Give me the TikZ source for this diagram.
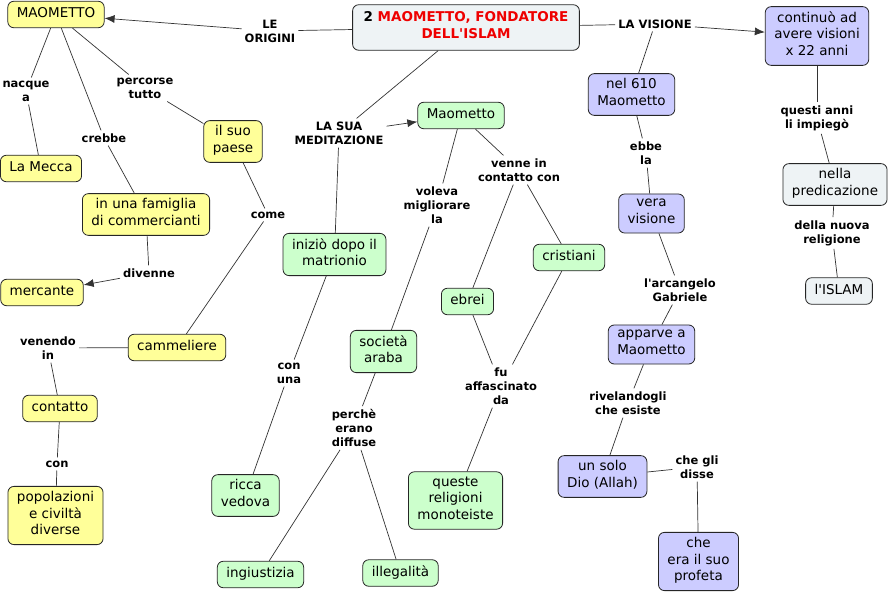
\documentclass[tikz,border=0pt]{standalone}
\usepackage{fontspec}
\setmainfont{DejaVu Sans}
\usepackage{tikz}
\usetikzlibrary{arrows.meta, positioning}

\definecolor{conYellow}{HTML}{FFFF99}
\definecolor{conGreen}{HTML}{CCFFCC}
\definecolor{conViolet}{HTML}{CCCCFF}
\definecolor{conGrey}{HTML}{EEF3F5}
\definecolor{titleRed}{HTML}{EE0000}
\newcommand{\nodefont}{\fontsize{13.5}{16.5}\selectfont}
\newcommand{\linkfont}{\fontsize{11.5}{14}\selectfont\bfseries}
\newcommand{\apo}{\textquotesingle}

\tikzset{
    concept/.style={draw=black!85, line width=0.8pt, rounded corners=6pt, align=center,
        inner xsep=9pt, inner ysep=5pt, font=\nodefont,
        execute at begin node=\strut, execute at end node=\strut},
    yel/.style={concept, fill=conYellow},
    grn/.style={concept, fill=conGreen},
    vio/.style={concept, fill=conViolet},
    gry/.style={concept, fill=conGrey},
    linkword/.style={align=center, font=\linkfont, inner sep=3pt},
    conn/.style={draw=black!80, line width=0.7pt},
    arr/.style={conn, -{Latex[length=10pt,width=8pt]}}
}

\begin{document}
\begin{tikzpicture}[x=1pt, y=-1pt]
    \fill[white] (0,0) rectangle (889,596);
    \useasboundingbox (0,0) rectangle (889,596);

    % concetti
    \node[gry, font=\nodefont\bfseries, inner xsep=11pt, inner ysep=7pt] (titolo) at (466,27.5) {2 \textcolor{titleRed}{MAOMETTO, FONDATORE}\\\textcolor{titleRed}{DELL\apo ISLAM}};
    \node[yel] (maometto) at (56,14.5) {MAOMETTO};
    \node[vio] (visioni) at (817,36) {continuò ad\\avere visioni\\x 22 anni};
    \node[yel] (mecca) at (41,168.5) {La Mecca};
    \node[yel] (paese) at (233,141.5) {il suo\\paese};
    \node[yel] (famiglia) at (146,214.5) {in una famiglia\\di commercianti};
    \node[yel] (mercante) at (42,292.5) {mercante};
    \node[yel] (cammeliere) at (177,347.5) {cammeliere};
    \node[yel] (contatto) at (60,408.5) {contatto};
    \node[yel] (popolazioni) at (55.5,515.5) {popolazioni\\e civiltà\\diverse};
    \node[grn] (maoverde) at (461,115.5) {Maometto};
    \node[grn] (inizio) at (334.5,254.5) {iniziò dopo il\\matrionio};
    \node[grn] (societa) at (383.5,351.5) {società\\araba};
    \node[grn] (ebrei) at (467.5,301.5) {ebrei};
    \node[grn] (cristiani) at (569,257.5) {cristiani};
    \node[grn] (vedova) at (245.5,495.5) {ricca\\vedova};
    \node[grn] (ingiustizia) at (260.5,574.5) {ingiustizia};
    \node[grn] (illegalita) at (400.5,573) {illegalità};
    \node[grn] (religioni) at (455.5,500.5) {queste\\religioni\\monoteiste};
    \node[vio] (nel610) at (631.5,94.5) {nel 610\\Maometto};
    \node[vio] (vera) at (651.5,213.5) {vera\\visione};
    \node[vio] (apparve) at (651.5,344.5) {apparve a\\Maometto};
    \node[vio] (dio) at (602.5,476.5) {un solo\\Dio (Allah)};
    \node[vio] (profeta) at (698.5,561.5) {che\\era il suo\\profeta};
    \node[gry] (predica) at (835,184.5) {nella\\predicazione};
    \node[gry] (islam) at (839,291) {l\apo ISLAM};

    % parole di collegamento
    \node[linkword] (lOrigini) at (270,31) {LE\\ORIGINI};
    \node[linkword] (lVisione) at (655,24) {LA VISIONE};
    \node[linkword] (lMeditazione) at (339,133) {LA SUA\\MEDITAZIONE};
    \node[linkword] (lNacque) at (26,91) {nacque\\a};
    \node[linkword] (lCrebbe) at (104,138) {crebbe};
    \node[linkword] (lPercorse) at (145,88) {percorse\\tutto};
    \node[linkword] (lCome) at (268,215) {come};
    \node[linkword] (lDivenne) at (149,273) {divenne};
    \node[linkword] (lVenendo) at (48,348) {venendo\\in};
    \node[linkword] (lCon) at (57,464) {con};
    \node[linkword] (lConUna) at (289,373) {con\\una};
    \node[linkword] (lVoleva) at (437,205) {voleva\\migliorare\\la};
    \node[linkword] (lVenne) at (519,170) {venne in\\contatto con};
    \node[linkword] (lPerche) at (354,428) {perchè\\erano\\diffuse};
    \node[linkword] (lFu) at (501,386) {fu\\affascinato\\da};
    \node[linkword] (lEbbe) at (646,153) {ebbe\\la};
    \node[linkword] (lArcangelo) at (680,290) {l\apo arcangelo\\Gabriele};
    \node[linkword] (lRivelando) at (628,403) {rivelandogli\\che esiste};
    \node[linkword] (lChe) at (697,467) {che gli\\disse};
    \node[linkword] (lQuesti) at (817,118) {questi anni\\li impiegò};
    \node[linkword] (lDella) at (832,233) {della nuova\\religione};

    % collegamenti
    \draw[conn] (titolo) -- (lOrigini);
    \draw[arr] (lOrigini) -- (maometto);
    \draw[conn] (titolo) -- (lVisione);
    \draw[arr] (lVisione) -- (visioni);
    \draw[conn] (lVisione) -- (nel610);
    \draw[conn] (titolo) -- (lMeditazione);
    \draw[arr] (lMeditazione) -- (maoverde);
    \draw[conn] (lMeditazione) -- (inizio);

    \draw[conn] (maometto) -- (lNacque);
    \draw[conn] (lNacque) -- (mecca);
    \draw[conn] (maometto) -- (lCrebbe);
    \draw[conn] (lCrebbe) -- (famiglia);
    \draw[conn] (maometto) -- (lPercorse);
    \draw[conn] (lPercorse) -- (paese);
    \draw[conn] (paese) -- (lCome);
    \draw[conn] (lCome) -- (cammeliere);
    \draw[conn] (famiglia) -- (lDivenne);
    \draw[arr] (lDivenne) -- (mercante);
    \draw[conn] (cammeliere) -- (lVenendo);
    \draw[conn] (lVenendo) -- (contatto);
    \draw[conn] (contatto) -- (lCon);
    \draw[conn] (lCon) -- (popolazioni);

    \draw[conn] (inizio) -- (lConUna);
    \draw[conn] (lConUna) -- (vedova);
    \draw[conn] (maoverde) -- (lVoleva);
    \draw[conn] (lVoleva) -- (societa);
    \draw[conn] (maoverde) -- (lVenne);
    \draw[conn] (lVenne) -- (ebrei);
    \draw[conn] (lVenne) -- (cristiani);
    \draw[conn] (societa) -- (lPerche);
    \draw[conn] (lPerche) -- (ingiustizia);
    \draw[conn] (lPerche) -- (illegalita);
    \draw[conn] (ebrei) -- (lFu);
    \draw[conn] (cristiani) -- (lFu);
    \draw[conn] (lFu) -- (religioni);

    \draw[conn] (nel610) -- (lEbbe);
    \draw[conn] (lEbbe) -- (vera);
    \draw[conn] (vera) -- (lArcangelo);
    \draw[conn] (lArcangelo) -- (apparve);
    \draw[conn] (apparve) -- (lRivelando);
    \draw[conn] (lRivelando) -- (dio);
    \draw[conn] (dio) -- (lChe);
    \draw[conn] (lChe) -- (profeta);
    \draw[conn] (visioni) -- (lQuesti);
    \draw[conn] (lQuesti) -- (predica);
    \draw[conn] (predica) -- (lDella);
    \draw[conn] (lDella) -- (islam);
\end{tikzpicture}
\end{document}
